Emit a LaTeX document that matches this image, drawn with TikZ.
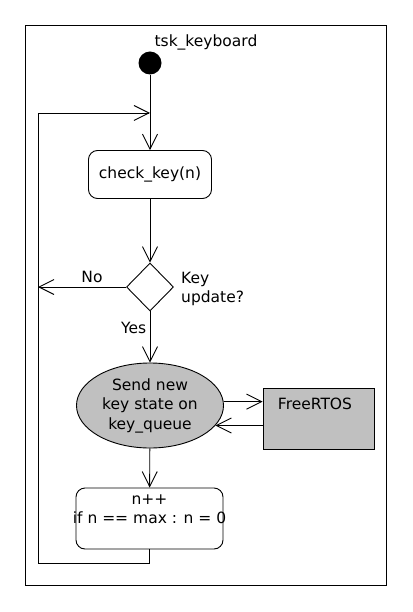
\documentclass[tikz,border=0pt]{standalone}
\usepackage{fontspec}
\setmainfont{DejaVu Sans}
\usepackage{xcolor}
\usepackage{tikz}
\usetikzlibrary{shapes,arrows,positioning,calc,arrows.meta}
\definecolor{boxgray}{HTML}{C0C0C0}

\begin{document}
\begin{tikzpicture}[x=1pt,y=-1pt,
    every node/.style={font=\fontsize{15.5}{19.5}\selectfont},
    flow/.style={-{Straight Barb[length=15pt,width=15pt]}, line width=0.9pt},
    action/.style={draw, rectangle, rounded corners=9pt, line width=0.9pt},
    ]
    \useasboundingbox (0,0) rectangle (412,612);
    % Task frame
    \draw[line width=0.9pt] (25,25) rectangle (386,585);
    \node (title) at (206,42) {tsk\_keyboard};

    % States
    \node[circle, fill=black, minimum size=23pt, inner sep=0pt] (start) at (150,63) {};
    \coordinate (join) at (150,113);
    \node[action, minimum width=123pt, minimum height=48pt] (check) at (150,174.5) {check\_key(n)};
    \node[diamond, draw, line width=0.9pt, minimum width=47pt, minimum height=48pt, inner sep=0pt] (update) at (150,287) {};
    \node[align=left, anchor=west, inner sep=0pt] (updatetext) at (181,289) {Key\\update?};
    \node[ellipse, draw, fill=boxgray, line width=0.9pt, minimum width=147pt, minimum height=85pt, inner sep=0pt, align=center] (send) at (150,405.5) {Send new\\key state on\\key\_queue};
    \node[draw, rectangle, fill=boxgray, line width=0.9pt, minimum width=111pt, minimum height=61pt] (rtos) at (318.5,418.5) {};
    \node (rtostext) at ($(rtos.center)+(-3.5,-14.5)$) {FreeRTOS};
    \node[action, minimum width=147pt, minimum height=61pt] (count) at (149.5,518.5) {};
    \node[align=center] (counttext) at ($(count.center)+(0,-9.5)$) {n++\\if n == max : n = 0};

    % Transitions
    \coordinate (noend) at (38,287);
    \coordinate (loopbot) at (38,563);
    \coordinate (looptop) at (38,113);
    \draw[flow] (start) -- (check);
    \draw[flow] (check) -- (update);
    \draw[flow] (update) -- node[above, xshift=10pt] (no) {No} (noend);
    \draw[flow] (update) -- node[left, yshift=9pt] (yes) {Yes} (send);
    \draw[flow] (send.3.5) -- (send.3.5 -| rtos.west);
    \draw[flow] (rtos.west |- send.-17.7) -- (send.-17.7);
    \draw[flow] (send) -- (count);
    \draw[flow] (count.south) |- (loopbot) -- (looptop) -- (join);
\end{tikzpicture}
\end{document}
